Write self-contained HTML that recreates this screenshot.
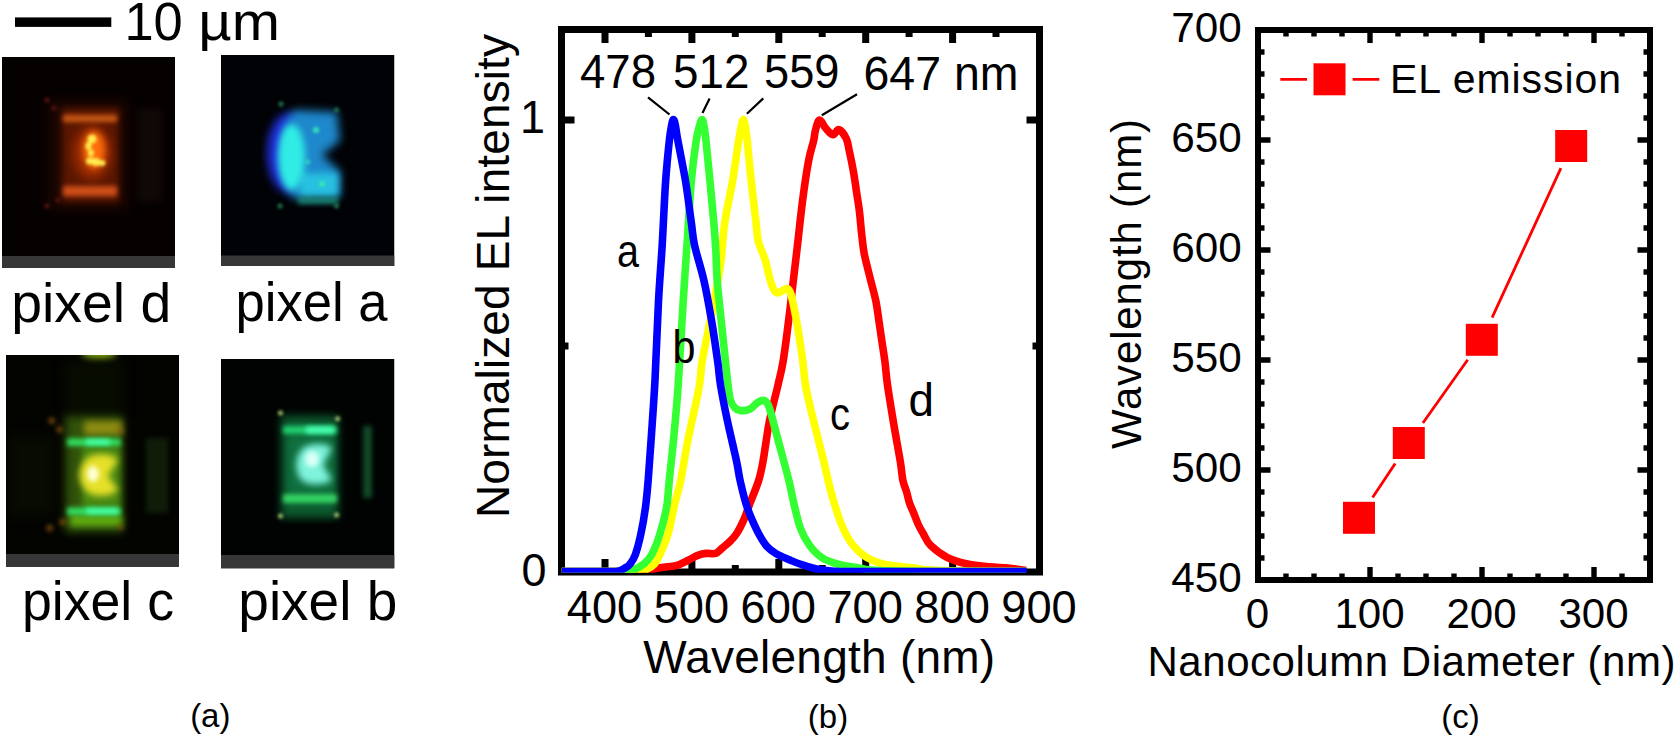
<!DOCTYPE html><html><head><meta charset="utf-8"><title>Figure</title>
<style>html,body{margin:0;padding:0;background:#fff;overflow:hidden}svg{display:block}text{font-family:"Liberation Sans",Arial,sans-serif;fill:#000}</style></head><body>
<svg width="1676" height="736" viewBox="0 0 1676 736">
<rect width="1676" height="736" fill="#fff"/>
<defs>
<filter id="soft" color-interpolation-filters="sRGB" x="-5%" y="-5%" width="110%" height="110%"><feGaussianBlur stdDeviation="1.1"/></filter>
<filter id="b1" color-interpolation-filters="sRGB" x="-50%" y="-50%" width="200%" height="200%"><feGaussianBlur stdDeviation="1.2"/></filter>
<filter id="b2" color-interpolation-filters="sRGB" x="-50%" y="-50%" width="200%" height="200%"><feGaussianBlur stdDeviation="2"/></filter>
<filter id="b3" color-interpolation-filters="sRGB" x="-50%" y="-50%" width="200%" height="200%"><feGaussianBlur stdDeviation="3"/></filter>
<filter id="b4" color-interpolation-filters="sRGB" x="-50%" y="-50%" width="200%" height="200%"><feGaussianBlur stdDeviation="4"/></filter>
<filter id="b6" color-interpolation-filters="sRGB" x="-50%" y="-50%" width="200%" height="200%"><feGaussianBlur stdDeviation="6"/></filter>
<clipPath id="c1"><rect x="2" y="57" width="173" height="211"/></clipPath>
<clipPath id="c2"><rect x="221" y="55" width="173.5" height="211"/></clipPath>
<clipPath id="c3"><rect x="6" y="355" width="173" height="212"/></clipPath>
<clipPath id="c4"><rect x="221" y="359" width="173.5" height="209.5"/></clipPath>
</defs>
<g id="panel-a">
<rect x="15" y="17.4" width="96.3" height="9.5" fill="#000"/>
<text y="39.5" font-size="54"><tspan x="124.4" textLength="58.3" lengthAdjust="spacingAndGlyphs">10</tspan><tspan x="198.3" textLength="81.6" lengthAdjust="spacingAndGlyphs">µm</tspan></text>
<!-- pixel d -->
<g clip-path="url(#c1)">
<rect x="2" y="57" width="173" height="211" fill="#050100"/>
<g filter="url(#soft)">
<rect x="48" y="100" width="80" height="110" fill="#1c0600" filter="url(#b6)"/>
<rect x="62" y="108" width="57" height="94" fill="#5c1700" filter="url(#b3)"/>
<ellipse cx="92" cy="153" rx="19" ry="27" fill="#982a00" filter="url(#b4)"/>
<rect x="63" y="115" width="54" height="7" fill="#c85814" filter="url(#b2)"/>
<rect x="63" y="186" width="54" height="10" fill="#cc4e18" filter="url(#b2)"/>
<ellipse cx="94" cy="150" rx="11" ry="19" fill="#ff6c0a" filter="url(#b3)"/>
<g fill="#fff050" filter="url(#b1)"><ellipse cx="92" cy="139" rx="4.500" ry="4.500"/><ellipse cx="88.500" cy="146" rx="3" ry="4"/><ellipse cx="91" cy="153" rx="3" ry="3.500"/><ellipse cx="90" cy="161" rx="4" ry="3.500"/><ellipse cx="96" cy="162" rx="4" ry="4"/><ellipse cx="102" cy="163" rx="3.500" ry="3"/></g>
<rect x="137" y="108" width="25" height="94" fill="#100805" filter="url(#b3)"/>
<g fill="#5a1410" filter="url(#b1)"><circle cx="47" cy="100" r="2.5"/><circle cx="54" cy="108" r="2.5"/><circle cx="47" cy="206" r="2.5"/><circle cx="58" cy="200" r="2.5"/></g>
</g>
<rect x="2" y="256" width="173" height="12" fill="#373737"/>
</g>
<!-- pixel a -->
<g clip-path="url(#c2)">
<rect x="221" y="55" width="173.5" height="211" fill="#010205"/>
<g filter="url(#soft)">
<ellipse cx="289" cy="153" rx="22" ry="40" fill="#2030dc" filter="url(#b4)"/>
<path d="M296 110L337 112L340 141L322 155L340 171L340 197L296 199C277 190 277 118 296 110Z" fill="#1e88cc" filter="url(#b4)"/>
<rect x="300" y="173" width="38" height="23" fill="#28c0e0" filter="url(#b3)"/>
<rect x="298" y="197" width="40" height="7" fill="#1a8070" filter="url(#b2)"/>
<ellipse cx="291.500" cy="157" rx="13.500" ry="33" fill="#30ece4" filter="url(#b3)"/>
<g fill="#38e8b8" filter="url(#b1)"><circle cx="316" cy="130" r="3"/><circle cx="322" cy="184" r="3"/><circle cx="308" cy="162" r="2"/></g>
<path d="M367.500 121V190" stroke="#165050" stroke-width="8" filter="url(#b2)"/>
<g fill="#227854" filter="url(#b1)"><circle cx="281" cy="104" r="2.5"/><circle cx="336.500" cy="110" r="2.5"/><circle cx="280" cy="206" r="2.5"/><circle cx="336.500" cy="206" r="2.5"/></g>
</g>
<rect x="221" y="255.500" width="173.5" height="10.5" fill="#373737"/>
</g>
<!-- pixel c -->
<g clip-path="url(#c3)">
<rect x="6" y="355" width="173" height="212" fill="#030400"/>
<g filter="url(#soft)">
<ellipse cx="99" cy="355" rx="17" ry="5" fill="#98c818" filter="url(#b3)"/>
<rect x="66" y="360" width="56" height="60" fill="#070c01" filter="url(#b6)"/>
<rect x="65" y="416" width="58" height="116" fill="#30520a" filter="url(#b4)"/>
<rect x="84" y="421" width="38" height="14" fill="#8e8c12" filter="url(#b3)"/>
<rect x="82" y="446" width="38" height="62" fill="#4a8a12" filter="url(#b3)"/>
<rect x="70" y="515" width="52" height="11" fill="#62b010" filter="url(#b3)"/>
<rect x="67" y="438.500" width="54" height="7.500" fill="#30e060" filter="url(#b2)"/>
<rect x="86" y="439" width="24" height="6" fill="#48ffa8" filter="url(#b2)"/>
<rect x="67" y="507.500" width="54" height="7.500" fill="#30e060" filter="url(#b2)"/>
<rect x="86" y="508" width="32" height="6" fill="#48ffa8" filter="url(#b2)"/>
<path d="M84 462C88 452 112 452 118 460L108 476L118 490C110 498 88 498 84 488C78 480 78 470 84 462Z" fill="#e6e028" filter="url(#b3)"/>
<ellipse cx="93" cy="474" rx="6" ry="8" fill="#ffffd8" filter="url(#b2)"/>
<g fill="#8a5412" filter="url(#b2)"><circle cx="51.700" cy="420.700" r="3"/><circle cx="59.500" cy="429.500" r="3"/><circle cx="49.700" cy="528" r="3"/><circle cx="62.500" cy="522" r="3"/><circle cx="120.600" cy="430.500" r="2.500"/><circle cx="120.600" cy="527" r="2.500"/></g>
<rect x="146" y="438" width="22" height="75" fill="#101c08" filter="url(#b2)"/>
<rect x="10" y="436" width="44" height="80" fill="#070b02" filter="url(#b6)"/>
</g>
<rect x="6" y="554" width="173" height="13" fill="#373737"/>
</g>
<!-- pixel b -->
<g clip-path="url(#c4)">
<rect x="221" y="359" width="173.5" height="209.5" fill="#010302"/>
<g filter="url(#soft)">
<rect x="281" y="416" width="57" height="102" fill="#0c5c30" filter="url(#b4)"/>
<rect x="288" y="436" width="46" height="58" fill="#0f7040" filter="url(#b3)"/>
<rect x="283" y="426" width="54" height="8" fill="#22d070" filter="url(#b2)"/>
<rect x="306" y="426.500" width="28" height="7" fill="#48ffb4" filter="url(#b2)"/>
<rect x="283" y="494" width="54" height="9" fill="#34d464" filter="url(#b2)"/>
<path d="M300 452C304 442 326 442 332 448L323 465L332 480C324 486 304 486 300 478C295 470 295 460 300 452Z" fill="#7ef4dc" filter="url(#b3)"/>
<ellipse cx="312" cy="459" rx="7" ry="8" fill="#dcfff6" filter="url(#b2)"/>
<rect x="363" y="426" width="9" height="72" fill="#124a28" filter="url(#b2)"/>
<g fill="#a0c070" filter="url(#b1)"><circle cx="280.500" cy="413" r="2.500"/><circle cx="337.600" cy="418.700" r="2.500"/><circle cx="280.500" cy="516" r="2.500"/><circle cx="336.600" cy="515" r="2.500"/></g>
</g>
<rect x="221" y="555" width="173.5" height="13.500" fill="#373737"/>
</g>
<text x="11.2" y="322" font-size="56" textLength="160" lengthAdjust="spacingAndGlyphs">pixel d</text>
<text x="235.5" y="321" font-size="56" textLength="152" lengthAdjust="spacingAndGlyphs">pixel a</text>
<text x="22" y="619.7" font-size="56" textLength="152" lengthAdjust="spacingAndGlyphs">pixel c</text>
<text x="238.3" y="619.7" font-size="56" textLength="159" lengthAdjust="spacingAndGlyphs">pixel b</text>
<text x="210.3" y="727" font-size="33" text-anchor="middle">(a)</text>
</g>

<g id="panel-b">
<clipPath id="clipb"><rect x="561.5" y="29.5" width="478" height="543.2"/></clipPath>
<rect x="561.5" y="29.5" width="478" height="542.5" fill="none" stroke="#000" stroke-width="7"/>
<path d="M605.0 33v10M605.0 569v-10M648.4 33v4M648.4 569v-4M691.9 33v10M691.9 569v-10M735.3 33v4M735.3 569v-4M778.8 33v10M778.8 569v-10M822.2 33v4M822.2 569v-4M865.7 33v10M865.7 569v-10M909.1 33v4M909.1 569v-4M952.6 33v10M952.6 569v-10M996.0 33v4M996.0 569v-4M565 120.0h9.5M1036 120.0h-9.5M565 346.0h3.5M1036 346.0h-3.5" stroke="#000" stroke-width="7" fill="none"/>
<path d="M561.5 571.5C567.9 571.5 586.9 571.5 600.0 571.5C613.1 571.5 632.5 571.6 640.0 571.5C647.5 571.4 641.3 571.6 644.8 570.9C648.3 570.3 655.8 568.5 661.0 567.6C666.2 566.7 671.5 566.8 676.0 565.6C680.5 564.4 684.7 561.9 688.3 560.2C691.9 558.5 694.8 556.5 697.8 555.4C700.8 554.3 703.0 553.7 706.0 553.4C709.0 553.1 712.8 554.3 715.5 553.4C718.2 552.5 719.8 550.1 722.3 548.0C724.8 545.9 727.9 543.5 730.4 541.0C732.9 538.5 734.7 536.6 737.0 533.0C739.3 529.4 741.9 524.1 744.0 519.4C746.1 514.6 747.1 510.9 749.5 504.5C751.9 498.1 756.2 488.2 758.5 481.0C760.8 473.8 761.2 471.5 763.0 461.5C764.8 451.5 767.0 433.6 769.5 420.8C772.0 408.1 775.8 394.8 778.0 385.0C780.2 375.2 781.2 372.6 783.0 362.0C784.8 351.4 786.8 335.0 788.5 321.5C790.2 308.0 791.8 293.6 793.3 280.8C794.8 268.1 796.0 258.1 797.5 245.0C799.0 231.9 800.6 216.0 802.4 202.0C804.2 188.0 806.6 171.4 808.5 161.2C810.4 151.0 812.4 146.0 813.6 140.8C814.8 135.6 814.5 133.5 815.5 130.0C816.5 126.5 817.8 120.2 819.5 120.0C821.2 119.8 823.6 126.0 825.9 128.5C828.1 130.9 830.8 134.5 833.0 134.7C835.2 134.9 836.8 128.9 839.0 129.6C841.2 130.3 844.6 135.1 846.3 138.7C848.0 142.3 848.1 145.6 849.3 151.0C850.5 156.4 852.2 164.6 853.4 171.4C854.6 178.2 855.5 184.9 856.5 191.7C857.5 198.5 858.7 205.2 859.5 212.0C860.3 218.8 860.8 226.2 861.5 232.5C862.2 238.8 862.9 245.3 863.6 250.0C864.3 254.7 864.5 255.3 865.7 260.4C866.9 265.5 869.1 274.0 870.8 280.8C872.5 287.6 874.5 294.4 875.9 301.2C877.3 308.0 878.0 314.7 879.0 321.5C880.0 328.3 881.0 335.2 882.0 342.0C883.0 348.8 884.1 355.1 885.0 362.3C885.9 369.5 886.1 375.2 887.5 385.0C888.9 394.8 891.1 408.1 893.2 420.8C895.3 433.6 898.7 451.6 900.3 461.5C901.9 471.4 901.8 474.9 902.8 480.0C903.8 485.1 905.5 488.2 906.6 492.0C907.7 495.8 908.4 499.6 909.5 503.0C910.6 506.4 912.0 508.8 913.5 512.5C915.0 516.2 916.8 521.4 918.5 525.0C920.2 528.6 921.5 530.6 923.5 534.0C925.5 537.4 926.5 541.3 930.5 545.2C934.5 549.1 941.5 554.5 947.5 557.6C953.5 560.7 959.2 562.2 966.2 563.8C973.2 565.3 982.4 566.2 989.4 566.9C996.4 567.6 1001.9 567.5 1008.0 568.1C1014.1 568.7 1023.0 570.1 1026.0 570.5" fill="none" stroke="#ff0000" stroke-width="7.6" stroke-linejoin="round" stroke-linecap="butt" clip-path="url(#clipb)"/>
<path d="M561.5 571.5C567.9 571.5 587.8 571.5 600.0 571.5C612.2 571.5 627.3 571.8 635.0 571.5C642.7 571.2 643.0 570.7 646.2 569.5C649.4 568.3 652.0 566.7 654.3 564.2C656.6 561.7 657.5 559.7 659.8 554.7C662.1 549.7 665.4 542.6 667.9 534.3C670.4 526.0 672.4 514.0 674.5 505.0C676.6 495.9 678.6 490.6 680.8 480.0C683.0 469.4 684.7 456.5 687.7 441.2C690.7 425.9 696.6 401.1 699.0 388.0C701.4 374.9 700.5 371.7 702.0 362.3C703.5 352.9 705.8 342.8 708.0 331.7C710.2 320.6 712.8 307.9 715.0 296.0C717.2 284.1 719.4 272.7 721.0 260.4C722.6 248.1 722.9 235.5 724.8 222.3C726.7 209.2 730.2 195.1 732.5 181.5C734.8 167.9 737.1 150.1 738.6 140.8C740.1 131.6 740.5 129.6 741.3 126.0C742.1 122.5 742.6 119.5 743.3 119.5C744.0 119.5 744.6 122.5 745.3 126.0C745.9 129.6 746.2 131.6 747.2 140.8C748.2 150.1 749.8 167.9 751.3 181.5C752.8 195.1 754.9 212.6 756.0 222.3C757.1 232.1 757.2 235.6 758.0 240.0C758.8 244.4 759.8 245.6 761.0 249.0C762.2 252.4 763.7 255.1 765.3 260.4C766.9 265.7 768.9 275.9 770.4 280.8C771.9 285.7 772.8 288.0 774.0 290.0C775.2 292.0 776.2 292.8 777.5 293.0C778.8 293.2 780.4 291.8 782.0 291.0C783.6 290.2 785.6 288.2 787.0 288.5C788.4 288.8 789.2 289.4 790.5 293.0C791.8 296.6 793.2 303.6 794.5 310.0C795.8 316.4 797.1 323.6 798.4 331.7C799.7 339.8 801.1 348.9 802.4 358.3C803.7 367.7 804.1 377.6 806.0 388.0C807.9 398.4 810.6 408.6 813.6 420.8C816.6 433.1 821.4 451.6 823.8 461.5C826.2 471.4 826.3 473.1 828.0 480.0C829.7 486.9 831.8 495.2 834.2 503.0C836.6 510.8 839.4 520.0 842.5 527.0C845.6 534.0 848.8 540.1 852.9 545.2C857.0 550.3 861.5 554.4 866.9 557.6C872.3 560.8 878.0 562.8 885.5 564.5C893.0 566.2 902.8 566.7 911.9 567.7C921.0 568.7 921.0 569.9 940.0 570.5C959.0 571.1 1011.7 571.3 1026.0 571.5" fill="none" stroke="#ffff00" stroke-width="7.6" stroke-linejoin="round" stroke-linecap="butt" clip-path="url(#clipb)"/>
<path d="M561.5 571.5C567.9 571.5 589.4 571.5 600.0 571.5C610.6 571.5 619.3 571.8 625.0 571.5C630.7 571.2 630.9 570.7 634.0 569.5C637.1 568.3 640.6 566.7 643.5 564.2C646.4 561.7 648.9 559.7 651.6 554.7C654.3 549.7 657.3 542.2 659.8 534.3C662.3 526.4 665.0 516.2 666.6 507.2C668.2 498.1 668.2 491.0 669.3 480.0C670.4 469.0 671.9 457.0 673.4 441.2C674.9 425.4 676.6 408.3 678.2 385.0C679.8 361.7 681.7 324.5 683.2 301.2C684.7 277.9 685.6 264.9 687.0 245.0C688.4 225.1 689.8 198.9 691.3 181.5C692.8 164.1 694.8 150.1 696.2 140.8C697.6 131.6 698.5 129.6 699.5 126.0C700.5 122.5 701.2 119.5 702.0 119.5C702.8 119.5 703.3 122.5 704.0 126.0C704.7 129.6 705.0 131.6 706.0 140.8C707.0 150.1 708.7 167.9 710.0 181.5C711.3 195.1 712.8 210.9 713.8 222.3C714.8 233.7 715.2 240.2 715.8 250.0C716.4 259.8 716.3 268.9 717.2 280.8C718.1 292.7 719.9 308.0 721.3 321.5C722.7 335.0 724.4 351.4 725.5 362.0C726.6 372.6 727.2 378.6 728.0 385.0C728.8 391.4 729.3 396.6 730.5 400.4C731.7 404.2 733.3 406.3 735.0 408.0C736.7 409.7 738.2 410.4 740.7 410.6C743.2 410.8 747.3 410.3 750.0 409.0C752.7 407.7 754.8 404.4 757.0 403.0C759.2 401.6 761.3 400.4 763.0 400.4C764.7 400.4 765.8 401.3 767.0 403.0C768.2 404.7 768.3 404.2 770.2 410.6C772.1 417.0 775.3 429.5 778.4 441.2C781.5 452.9 786.4 470.4 789.0 481.0C791.6 491.6 792.3 497.2 794.2 505.0C796.1 512.8 797.8 521.3 800.3 528.0C802.8 534.7 805.9 540.3 809.5 545.2C813.1 550.1 817.0 554.4 821.9 557.6C826.8 560.8 833.0 562.8 839.0 564.5C845.0 566.2 850.8 566.7 857.6 567.7C864.4 568.7 864.6 569.9 880.0 570.5C895.4 571.1 925.7 571.3 950.0 571.5C974.3 571.7 1013.3 571.5 1026.0 571.5" fill="none" stroke="#33ff33" stroke-width="7.6" stroke-linejoin="round" stroke-linecap="butt" clip-path="url(#clipb)"/>
<path d="M561.5 571.5C567.9 571.5 591.1 571.5 600.0 571.5C608.9 571.5 611.6 571.7 615.0 571.5C618.4 571.3 618.7 571.1 620.4 570.5C622.1 569.9 623.4 569.0 625.0 568.0C626.6 567.0 628.2 566.4 629.9 564.2C631.6 562.0 633.5 559.7 635.3 554.7C637.1 549.7 639.1 542.2 640.8 534.3C642.5 526.4 644.3 516.2 645.5 507.2C646.7 498.1 647.3 491.0 648.2 480.0C649.1 469.0 649.9 457.9 651.0 441.2C652.1 424.5 653.8 403.3 655.0 380.0C656.2 356.7 657.3 323.7 658.5 301.2C659.7 278.7 661.0 264.9 662.2 245.0C663.4 225.1 664.4 198.9 665.6 181.5C666.8 164.1 668.3 150.1 669.3 140.8C670.3 131.6 670.8 129.6 671.5 126.0C672.2 122.5 672.7 119.5 673.4 119.5C674.1 119.5 674.8 122.5 675.5 126.0C676.2 129.6 676.2 131.6 677.9 140.8C679.6 150.1 683.4 167.9 685.6 181.5C687.8 195.1 689.8 211.7 691.3 222.3C692.8 232.9 692.4 235.2 694.5 245.0C696.6 254.8 701.1 268.1 704.0 280.8C706.9 293.6 709.4 307.9 711.7 321.5C714.0 335.1 716.3 351.7 717.8 362.3C719.3 372.9 718.9 375.2 720.5 385.0C722.1 394.8 724.7 408.1 727.4 420.8C730.1 433.6 734.5 451.6 736.6 461.5C738.7 471.4 738.5 473.3 740.0 480.0C741.5 486.7 743.6 495.6 745.4 501.7C747.2 507.8 748.5 511.3 750.8 516.7C753.1 522.1 756.3 529.3 759.0 534.3C761.7 539.3 764.1 543.3 767.0 546.6C769.9 549.9 772.8 551.8 776.6 554.0C780.4 556.2 786.1 558.3 790.0 560.0C793.9 561.7 795.2 562.4 800.0 564.0C804.8 565.6 812.1 568.2 818.8 569.5C825.5 570.8 826.5 571.2 840.0 571.5C853.5 571.8 868.9 571.5 900.0 571.5C931.1 571.5 1005.6 571.5 1026.7 571.5" fill="none" stroke="#0000ff" stroke-width="7.6" stroke-linejoin="round" stroke-linecap="butt" clip-path="url(#clipb)"/>
<path d="M648 97.3L669.5 114.5M709.6 98.4L702.5 113M763.3 98.4L746.9 113.7M857 94.3L821.8 115.2" stroke="#000" stroke-width="2.2" fill="none"/>
<text x="580" y="88" font-size="47.5" textLength="76" lengthAdjust="spacingAndGlyphs">478</text>
<text x="673" y="88" font-size="47.5" textLength="76.5" lengthAdjust="spacingAndGlyphs">512</text>
<text x="764" y="88.4" font-size="47.5" textLength="75.5" lengthAdjust="spacingAndGlyphs">559</text>
<text x="863.5" y="90" font-size="47.5" textLength="155" lengthAdjust="spacingAndGlyphs">647 nm</text>
<text x="617" y="266.5" font-size="46" textLength="22" lengthAdjust="spacingAndGlyphs">a</text>
<text x="672.5" y="362.5" font-size="46" textLength="23" lengthAdjust="spacingAndGlyphs">b</text>
<text x="830" y="430" font-size="46" textLength="20" lengthAdjust="spacingAndGlyphs">c</text>
<text x="908.5" y="415.7" font-size="46" textLength="25.5" lengthAdjust="spacingAndGlyphs">d</text>
<text x="532.5" y="133" font-size="46.5" text-anchor="middle" textLength="25" lengthAdjust="spacingAndGlyphs">1</text>
<text x="534" y="585.5" font-size="46.5" text-anchor="middle" textLength="25" lengthAdjust="spacingAndGlyphs">0</text>
<text x="604.5" y="623" font-size="46.5" text-anchor="middle" textLength="75.5" lengthAdjust="spacingAndGlyphs">400</text>
<text x="691.4" y="623" font-size="46.5" text-anchor="middle" textLength="75.5" lengthAdjust="spacingAndGlyphs">500</text>
<text x="778.3" y="623" font-size="46.5" text-anchor="middle" textLength="75.5" lengthAdjust="spacingAndGlyphs">600</text>
<text x="865.2" y="623" font-size="46.5" text-anchor="middle" textLength="75.5" lengthAdjust="spacingAndGlyphs">700</text>
<text x="952.1" y="623" font-size="46.5" text-anchor="middle" textLength="75.5" lengthAdjust="spacingAndGlyphs">800</text>
<text x="1039.0" y="623" font-size="46.5" text-anchor="middle" textLength="75.5" lengthAdjust="spacingAndGlyphs">900</text>
<text x="643.2" y="673" font-size="46" textLength="352" lengthAdjust="spacing">Wavelength (nm)</text>
<text transform="translate(508.5 518) rotate(-90)" font-size="46" textLength="484" lengthAdjust="spacing">Normalized EL intensity</text>
<text x="828" y="727.5" font-size="33" text-anchor="middle">(b)</text>
</g>
<g id="panel-c">
<rect x="1258" y="30" width="392" height="550" fill="none" stroke="#000" stroke-width="6"/>
<path d="M1286.0 33v3.5M1286.0 577v-3.5M1314.0 33v3.5M1314.0 577v-3.5M1342.0 33v3.5M1342.0 577v-3.5M1370.0 33v10.0M1370.0 577v-10.0M1398.0 33v3.5M1398.0 577v-3.5M1426.0 33v3.5M1426.0 577v-3.5M1454.0 33v3.5M1454.0 577v-3.5M1482.0 33v10.0M1482.0 577v-10.0M1510.0 33v3.5M1510.0 577v-3.5M1538.0 33v3.5M1538.0 577v-3.5M1566.0 33v3.5M1566.0 577v-3.5M1594.0 33v10.0M1594.0 577v-10.0M1622.0 33v3.5M1622.0 577v-3.5M1261 558.0h3.5M1647 558.0h-3.5M1261 536.0h3.5M1647 536.0h-3.5M1261 514.0h3.5M1647 514.0h-3.5M1261 492.0h3.5M1647 492.0h-3.5M1261 470.0h9.5M1647 470.0h-9.5M1261 448.0h3.5M1647 448.0h-3.5M1261 426.0h3.5M1647 426.0h-3.5M1261 404.0h3.5M1647 404.0h-3.5M1261 382.0h3.5M1647 382.0h-3.5M1261 360.0h9.5M1647 360.0h-9.5M1261 338.0h3.5M1647 338.0h-3.5M1261 316.0h3.5M1647 316.0h-3.5M1261 294.0h3.5M1647 294.0h-3.5M1261 272.0h3.5M1647 272.0h-3.5M1261 250.0h9.5M1647 250.0h-9.5M1261 228.0h3.5M1647 228.0h-3.5M1261 206.0h3.5M1647 206.0h-3.5M1261 184.0h3.5M1647 184.0h-3.5M1261 162.0h3.5M1647 162.0h-3.5M1261 140.0h9.5M1647 140.0h-9.5M1261 118.0h3.5M1647 118.0h-3.5M1261 96.0h3.5M1647 96.0h-3.5M1261 74.0h3.5M1647 74.0h-3.5M1261 52.0h3.5M1647 52.0h-3.5" stroke="#000" stroke-width="5.4" fill="none"/>
<path d="M1372.6 497.4L1395.2 463.4M1422.9 423.0L1467.7 359.8M1492.1 317.6L1560.9 168.2M1280.3 79.4H1307M1352.6 79.4H1379.3" stroke="#ff0000" stroke-width="2.8" fill="none"/>
<rect x="1343.0" y="501.8" width="32" height="32" fill="#ff0000"/>
<rect x="1392.8" y="427.0" width="32" height="32" fill="#ff0000"/>
<rect x="1465.8" y="323.8" width="32" height="32" fill="#ff0000"/>
<rect x="1555.2" y="130.0" width="32" height="32" fill="#ff0000"/>
<rect x="1313.5" y="63.3" width="32" height="32" fill="#ff0000"/>
<text x="1390" y="93" font-size="41" textLength="231" lengthAdjust="spacing">EL emission</text>
<text x="1241.8" y="592.3" font-size="43" text-anchor="end" textLength="70.5" lengthAdjust="spacingAndGlyphs">450</text>
<text x="1241.8" y="482.3" font-size="43" text-anchor="end" textLength="70.5" lengthAdjust="spacingAndGlyphs">500</text>
<text x="1241.8" y="372.3" font-size="43" text-anchor="end" textLength="70.5" lengthAdjust="spacingAndGlyphs">550</text>
<text x="1241.8" y="262.3" font-size="43" text-anchor="end" textLength="70.5" lengthAdjust="spacingAndGlyphs">600</text>
<text x="1241.8" y="152.3" font-size="43" text-anchor="end" textLength="70.5" lengthAdjust="spacingAndGlyphs">650</text>
<text x="1241.8" y="42.3" font-size="43" text-anchor="end" textLength="70.5" lengthAdjust="spacingAndGlyphs">700</text>
<text x="1257.5" y="628" font-size="43" text-anchor="middle" textLength="23.4" lengthAdjust="spacingAndGlyphs">0</text>
<text x="1369.5" y="628" font-size="43" text-anchor="middle" textLength="70.2" lengthAdjust="spacingAndGlyphs">100</text>
<text x="1481.5" y="628" font-size="43" text-anchor="middle" textLength="70.2" lengthAdjust="spacingAndGlyphs">200</text>
<text x="1593.5" y="628" font-size="43" text-anchor="middle" textLength="70.2" lengthAdjust="spacingAndGlyphs">300</text>
<text x="1147.5" y="675.8" font-size="42" textLength="528" lengthAdjust="spacing">Nanocolumn Diameter (nm)</text>
<text transform="translate(1141 449) rotate(-90)" font-size="42" textLength="330" lengthAdjust="spacing">Wavelength (nm)</text>
<text x="1460.5" y="727.5" font-size="33" text-anchor="middle">(c)</text>
</g>
</svg></body></html>
